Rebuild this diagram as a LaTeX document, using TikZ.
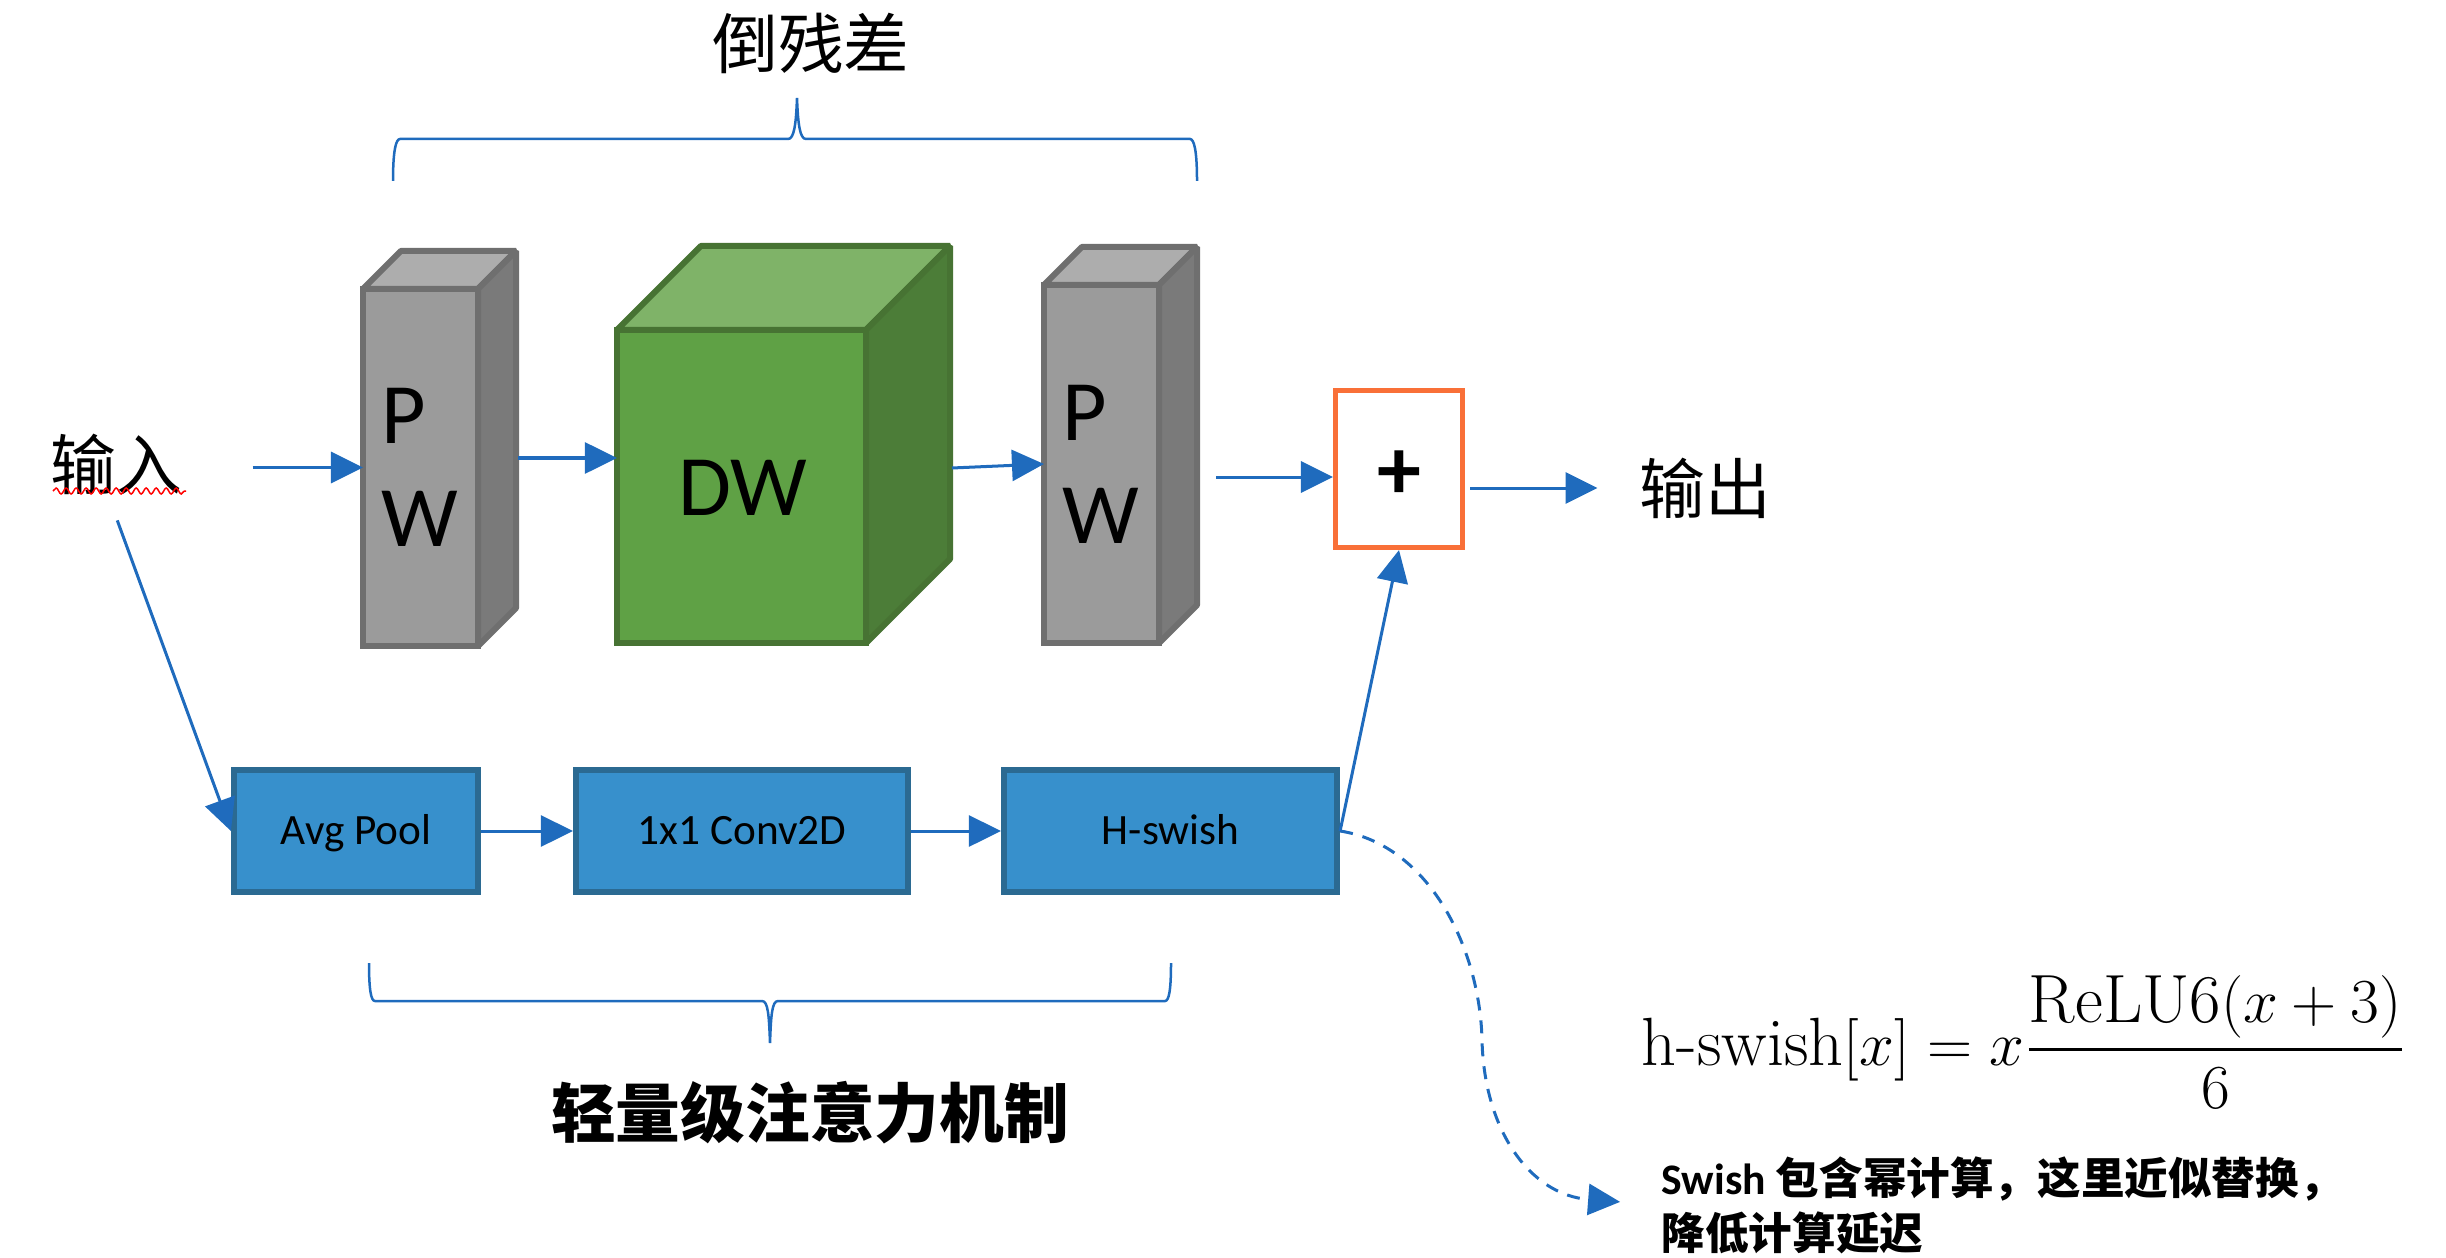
\documentclass[tikz,border=0pt]{standalone}
\usepackage{amsmath}
\usepackage{fontspec}
\usepackage{tikz}
\usetikzlibrary{arrows.meta,decorations.pathmorphing}
\newfontfamily\cjk{Noto Sans CJK SC}
\newfontfamily\cali{Carlito}
\DeclareMathSizes{18.85}{18.85}{13}{9}
\definecolor{flowblue}{HTML}{1F6BBD}
\definecolor{boxblue}{HTML}{3790CC}
\definecolor{boxedge}{HTML}{2B6A92}
\definecolor{pwfront}{HTML}{9B9B9B}
\definecolor{pwtop}{HTML}{ADADAD}
\definecolor{pwside}{HTML}{7A7A7A}
\definecolor{pwedge}{HTML}{6F6F6F}
\definecolor{dwfront}{HTML}{5FA145}
\definecolor{dwtop}{HTML}{7FB368}
\definecolor{dwside}{HTML}{4C7D38}
\definecolor{dwedge}{HTML}{477333}
\definecolor{plusedge}{HTML}{F97038}
\tikzset{
  flow/.style={draw=flowblue, line width=0.03cm, ->},
  brace/.style={draw=flowblue, line width=0.025cm},
  face/.style={draw, line width=0.06cm, outer sep=0pt, inner sep=0pt},
  bluebox/.style={draw=boxedge, fill=boxblue, line width=0.06cm, minimum height=1.22cm, inner sep=0pt, text height=0.8em, text depth=0.05em, font=\cali\fontsize{12.3}{14}\selectfont},
  bigletter/.style={inner sep=0pt, font=\cali\fontsize{24.5}{30}\selectfont},
  title/.style={inner sep=0pt, font=\cjk\fontsize{18.7}{22}\selectfont},
}
\begin{document}
\begin{tikzpicture}[x=0.01cm, y=-0.01cm, >={Triangle[length=0.32cm,width=0.31cm,fill=flowblue]}]
\useasboundingbox (0,0) rectangle (2446,1258);

\node [face, draw=pwedge, fill=pwfront, minimum width=1.15cm, minimum height=3.57cm] (pw_1) at (420.5,467.5) {};
\node [face, draw=dwedge, fill=dwfront, minimum width=2.49cm, minimum height=3.13cm] (dw) at (741.5,486.5) {};
\node [face, draw=pwedge, fill=pwfront, minimum width=1.15cm, minimum height=3.58cm] (pw_2) at (1101.5,464) {};

\foreach \f/\d/\e/\t/\s in {pw_1/38/pwedge/pwtop/pwside, dw/84/dwedge/dwtop/dwside, pw_2/38/pwedge/pwtop/pwside} {
  \path (\f.north east) ++(\d,-\d) coordinate (\f-back);
  \path (\f.south east) ++(\d,-\d) coordinate (\f-low);
  \draw [line width=0.06cm, line join=bevel, draw=\e, fill=\t] (\f.north west) -- ++(\d,-\d) -- (\f-back) -- (\f.north east) -- cycle;
  \draw [line width=0.06cm, line join=bevel, draw=\e, fill=\s] (\f.north east) -- (\f-back) -- (\f-low) -- (\f.south east) -- cycle;
}

\foreach \f/\x/\py/\wy in {pw_1/404/416/519, pw_2/1085/413/516} {
  \node [bigletter] (\f-p) at (\x,\py) {P};
  \node [bigletter] (\f-w) at (\x+16,\wy) {W};
}
\node [bigletter] (dw-label) at (743,488) {DW};

\node [bluebox, minimum width=2.44cm] (avg) at (356,831) {Avg Pool};
\node [bluebox, minimum width=3.32cm] (conv) at (742,831) {1x1 Conv2D};
\node [bluebox, minimum width=3.33cm] (hswish) at (1170.5,831) {H-swish};

\node [draw=plusedge, line width=0.05cm, fill=white, minimum width=1.27cm, minimum height=1.57cm, inner sep=0pt] (plus) at (1399,469) {};
\node [inner sep=0pt, font=\cali\bfseries\fontsize{25}{25}\selectfont] (plus-label) at (1399,475) {+};

\node [title] (input) at (116,464) {输入};
\node [title] (output) at (1705,488) {输出};
\node [title] (residual) at (811,43) {倒残差};
\node [title, font=\cjk\bfseries\fontsize{18.4}{22}\selectfont] (attention) at (810,1113) {轻量级注意力机制};

\node [inner sep=0pt, anchor=west, scale=1.03, transform shape, font=\fontsize{18.85}{23}\selectfont] (formula) at (1641,1042) {$\text{h-swish}[x]=x\dfrac{\text{ReLU6}(x+3)}{6}$};
\node [inner sep=0pt, anchor=west, align=left, font=\cjk\bfseries\fontsize{12.4}{15.6}\selectfont] (swish) at (1661,1205) {{\cali Swish} 包含幂计算，这里近似替换，\\降低计算延迟};

\coordinate (pw_1-out) at (518,458);
\coordinate (dw-out) at (952,468);
\coordinate (pw_2-out) at (1216,477);
\coordinate (plus-out) at (1470,488);
\coordinate (squiggle-l) at (53,491);
\coordinate (squiggle-r) at (186,491);

\draw [flow, shorten <=0.7cm] (pw_1.west -| input.east) -- (pw_1.west);
\draw [flow] (pw_1-out) -- (pw_1-out -| dw.west);
\draw [flow] (dw-out) -- (pw_2.west);
\draw [flow] (pw_2-out) -- (pw_2-out -| plus.west);
\draw [flow, shorten >=0.41cm] (plus-out) -- (plus-out -| output.west);
\draw [flow, shorten <=0.27cm] ([xshift=-0.08cm]input.south) -- (avg.west);
\draw [flow] (avg) -- (conv);
\draw [flow] (conv) -- (hswish);
\draw [flow] (hswish.east) -- (plus.south);
\draw [flow, dashed, dash pattern=on 0.13cm off 0.1cm, shorten >=0.41cm] (hswish.east) .. controls (1430,845) and (1480,950) .. (1482,1040) .. controls (1484,1130) and (1530,1195) .. (swish.west);

\draw [red, line width=0.015cm, decorate, decoration={snake, amplitude=0.03cm, segment length=0.1cm}] (squiggle-l) -- (squiggle-r);

\draw [brace] (393,181) .. controls (393,150) and (396,139) .. (400,139) -- (788,139) .. controls (794,139) and (796,125) .. (797,98) .. controls (798,125) and (800,139) .. (806,139) -- (1190,139) .. controls (1194,139) and (1197,150) .. (1197,181);
\draw [brace] (369,963) .. controls (369,990) and (371,1001) .. (375,1001) -- (762,1001) .. controls (768,1001) and (769,1015) .. (770,1043) .. controls (771,1015) and (772,1001) .. (778,1001) -- (1165,1001) .. controls (1169,1001) and (1171,990) .. (1171,963);

\end{tikzpicture}
\end{document}
